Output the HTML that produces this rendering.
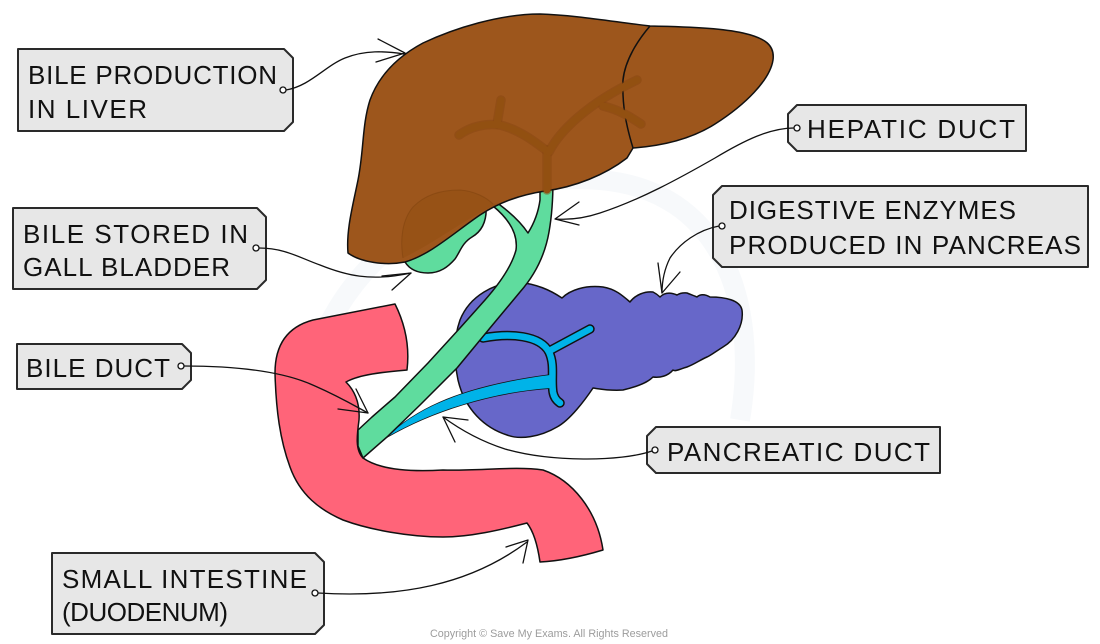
<!DOCTYPE html>
<html><head><meta charset="utf-8"><style>
html,body{margin:0;padding:0;background:#fff;}
svg{display:block;}
text{font-family:"Liberation Sans",sans-serif;}
</style></head><body>
<svg width="1100" height="644" viewBox="0 0 1100 644" xmlns="http://www.w3.org/2000/svg">
<rect width="1100" height="644" fill="#fff"/>
<!-- faint watermark -->
<g fill="none" stroke="#f7f9fb" stroke-width="20">
<path d="M300,420 C320,250 470,170 600,180 C720,190 760,300 740,420"/>
</g>

<!-- duodenum -->
<path d="M395,304 C404,322 410,345 407,370 C385,372 360,374 346,382 C356,392 360,405 359,420 C357,435 355,450 363,458 C380,470 410,472 443,470 C480,471 515,466 543,470 C572,480 597,510 603,550 C583,556 560,561 540,562 C538,548 534,532 527,523 C500,530 470,537 443,537 C410,537 370,530 343,520 C320,510 300,495 290,467 C280,440 276,410 275,373 C275,350 283,328 313,320 L395,304 Z" fill="#FF6479" stroke="#111" stroke-width="1.5" stroke-linejoin="round"/>

<!-- pancreas -->
<path d="M460,320 C470,295 495,283 517,282 C537,284 550,290 562,298 C570,290 585,285 603,287 C615,289 622,295 630,302 C635,295 645,291 653,292 C657,294 659,296 660,297 C664,293 670,292 677,295 C682,292 685,293 687,293 C692,295 695,296 697,297 C700,294 705,294 710,297 C725,297 740,300 742,310 C744,325 735,340 723,347 C715,352 710,356 707,357 C700,360 695,364 687,367 C680,369 675,372 673,370 C668,376 660,378 653,377 C648,382 640,386 623,390 C610,391 600,389 593,388 C585,400 570,420 557,427 C540,437 520,440 507,435 C485,428 465,410 458,380 C454,360 453,340 460,320 Z" fill="#6767C9" stroke="#111" stroke-width="1.5" stroke-linejoin="round"/>

<!-- pancreatic duct -->
<path d="M387,437 C410,415 450,388 550,375 L551,388 C490,392 430,412 387,437 Z" fill="#00B3E8" stroke="#111" stroke-width="1.5" stroke-linejoin="round"/>
<g fill="none" stroke-linecap="round" stroke-linejoin="round">
<path d="M483,338 C510,333 540,335 549,352 C555,365 551,378 553,392 C554,398 557,401 560,403" stroke="#111" stroke-width="9.5"/>
<path d="M551,350 L590,329" stroke="#111" stroke-width="9.5"/>
<path d="M387,437 C410,415 450,388 550,375 L551,388 C490,392 430,412 387,437 Z" fill="#00B3E8" stroke="none"/>
<path d="M483,338 C510,333 540,335 549,352 C555,365 551,378 553,392 C554,398 557,401 560,403" stroke="#00B3E8" stroke-width="6.5"/>
<path d="M551,350 L590,329" stroke="#00B3E8" stroke-width="6.5"/>
</g>

<!-- green ducts + gall bladder -->
<path d="M540,180 L553,180 C553,200 552,215 549,232 C545,255 535,275 520,292 L490,328 L457,368 L420,405 L387,437 L363,458 L358,446 L358,430 L372,417 L395,397 L428,363 L460,328 L485,300 C500,283 512,265 516,250 C518,235 510,220 493,206 L486,205 C487,218 484,230 472,237 C462,243 460,252 455,259 C448,267 440,273 428,273 C418,273 410,270 405,262 C400,245 402,220 413,207 C425,195 440,190 460,190 C475,191 490,198 500,205 C512,214 522,224 528,233 C533,225 538,215 540,200 Z" fill="#5FDC9E" stroke="#111" stroke-width="1.5" stroke-linejoin="round"/>

<!-- liver -->
<path d="M348,253 C360,262 385,266 405,262 C430,255 455,232 480,215 C500,202 520,195 545,191 C575,187 605,175 627,158 L633,148 C660,146 690,140 715,124 C745,105 770,80 773,60 C775,45 765,38 743,33 C725,29 700,27 650,26 C615,22 575,15 540,14 C500,14 455,28 423,43 C395,58 378,78 370,100 C362,125 364,150 358,180 C353,205 346,230 348,253 Z" fill="#9D561C" stroke="#111" stroke-width="1.5" stroke-linejoin="round"/>
<path d="M650,26 C638,40 625,60 623,80 C622,105 626,125 633,148" fill="none" stroke="#111" stroke-width="1.5"/>
<!-- gallbladder ghost -->
<path d="M403,258 C400,240 402,220 413,207 C425,195 440,190 460,190 C475,191 487,198 493,204 L500,203 C470,215 440,240 403,258 Z" fill="#8c4a0c" fill-opacity="0.35"/>
<path d="M403,258 C400,240 402,220 413,207 C425,195 440,190 460,190 C475,191 487,198 493,204" fill="none" stroke="#7e420e" stroke-width="1" stroke-opacity="0.5"/>
<!-- internal tree -->
<g fill="none" stroke-linecap="round" stroke-linejoin="round">
<g stroke="#84450f" stroke-width="9.5" stroke-opacity="0.45">
<path d="M547,190 L547,150"/>
<path d="M547,151 C535,142 520,130 500,125 C485,123 470,127 459,135"/>
<path d="M497,124 L501,100"/>
<path d="M549,152 C560,130 590,102 637,80"/>
<path d="M603,106 C620,110 632,118 641,124"/>
</g>
<g stroke="#925011" stroke-width="7">
<path d="M547,190 L547,150"/>
<path d="M547,151 C535,142 520,130 500,125 C485,123 470,127 459,135"/>
<path d="M497,124 L501,100"/>
<path d="M549,152 C560,130 590,102 637,80"/>
<path d="M603,106 C620,110 632,118 641,124"/>
</g>
</g>

<!-- label boxes -->
<g fill="#E7E7E7" stroke="#2a2a2a" stroke-width="2" stroke-linejoin="round">
<path d="M18,49 L284,49 L293,58 L293,122 L284,131 L18,131 Z"/>
<path d="M13,208 L257,208 L266,217 L266,280 L257,289 L13,289 Z"/>
<path d="M797,105 L1026,105 L1026,151 L797,151 L788,142 L788,114 Z"/>
<path d="M722,186 L1088,186 L1088,267 L722,267 L713,258 L713,195 Z"/>
<path d="M17,344 L182,344 L191,353 L191,380 L182,389 L17,389 Z"/>
<path d="M52,553 L315,553 L324,562 L324,625 L315,634 L52,634 Z"/>
<path d="M656,427 L940,427 L940,473 L656,473 L647,464 L647,436 Z"/>
</g>
<g fill="#111" font-size="26">
<text x="28" y="84" textLength="249" lengthAdjust="spacing">BILE PRODUCTION</text>
<text x="28" y="118" textLength="119" lengthAdjust="spacing">IN LIVER</text>
<text x="23" y="243" textLength="225" lengthAdjust="spacing">BILE STORED IN</text>
<text x="23" y="276" textLength="207" lengthAdjust="spacing">GALL BLADDER</text>
<text x="807" y="138" textLength="208" lengthAdjust="spacing">HEPATIC DUCT</text>
<text x="729" y="219" textLength="287" lengthAdjust="spacing">DIGESTIVE ENZYMES</text>
<text x="729" y="254" textLength="352" lengthAdjust="spacing">PRODUCED IN PANCREAS</text>
<text x="26" y="377" textLength="144" lengthAdjust="spacing">BILE DUCT</text>
<text x="62" y="588" textLength="245" lengthAdjust="spacing">SMALL INTESTINE</text>
<text x="62" y="621" textLength="166" lengthAdjust="spacing">(DUODENUM)</text>
<text x="667" y="461" textLength="263" lengthAdjust="spacing">PANCREATIC DUCT</text>
</g>

<!-- connectors -->
<g fill="none" stroke="#111" stroke-width="1.3" stroke-linecap="round" stroke-linejoin="round">
<path d="M286,90 C310,86 325,66 345,58 C365,50 385,51 404,54"/>
<path d="M378,39 L405,53 L376,62"/>
<path d="M259,248 C285,248 300,258 320,265 C345,275 370,282 411,273"/>
<path d="M382,276 L411,273 L392,290"/>
<path d="M794,128 C770,128 745,140 715,158 C680,178 640,200 600,213 C585,218 570,220 556,219"/>
<path d="M579,202 L555,219 L579,225"/>
<path d="M719,226 C698,230 680,243 670,258 C664,270 662,282 662,293"/>
<path d="M658,263 L662,293 L680,272"/>
<path d="M184,366 C240,366 285,372 315,386 C340,397 355,406 368,413"/>
<path d="M356,389 L368,413 L338,409"/>
<path d="M652,451 C620,462 550,462 505,449 C480,441 458,428 443,417"/>
<path d="M468,420 L443,417 L455,442"/>
<path d="M318,593 C400,598 470,585 527,542"/>
<path d="M506,547 L528,540 L523,563"/>
</g>
<g fill="#fff" stroke="#111" stroke-width="1.3">
<circle cx="283" cy="90" r="3"/>
<circle cx="256" cy="248" r="3"/>
<circle cx="797" cy="128" r="3"/>
<circle cx="722" cy="226" r="3"/>
<circle cx="181" cy="366" r="3"/>
<circle cx="315" cy="593" r="3"/>
<circle cx="655" cy="450" r="3"/>
</g>

<text x="430" y="637" font-size="11" fill="#9c9c9c" textLength="238" lengthAdjust="spacingAndGlyphs">Copyright © Save My Exams. All Rights Reserved</text>
</svg>
</body></html>
